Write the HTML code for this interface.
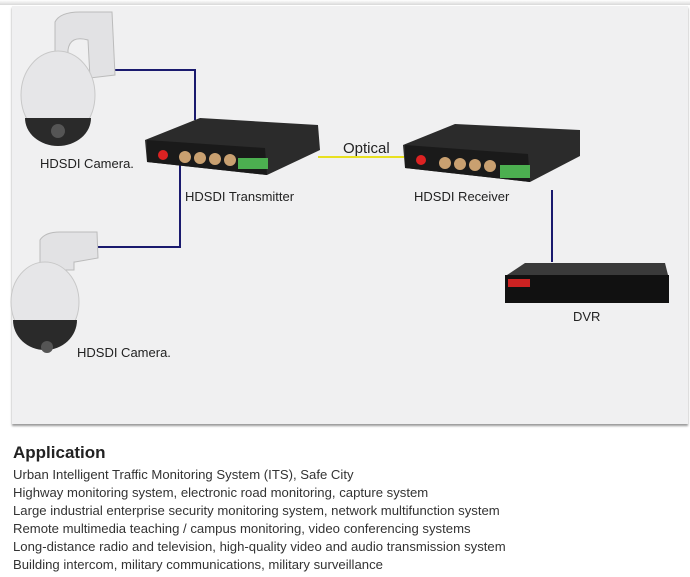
<!DOCTYPE html>
<html><head><meta charset="utf-8"><style>
body{margin:0;width:690px;height:577px;background:#fff;position:relative;overflow:hidden;font-family:"Liberation Sans",Arial,sans-serif}
.panel{position:absolute;left:12px;top:6px;width:676px;height:418px;background:#f0f0f1;box-shadow:0 2px 2px #999}
.top{position:absolute;left:0;top:0;width:690px;height:5px;background:linear-gradient(#fff,#d8d8d8)}
svg{position:absolute;left:0;top:0}
.h{position:absolute;left:13px;top:443px;font-size:17px;font-weight:bold;color:#222}
.l{position:absolute;left:13px;font-size:13px;color:#333;transform:scaleX(1.01);transform-origin:left}
</style></head><body>
<div class="top"></div>
<div class="panel"></div>
<svg width="690" height="577">
<g fill="none" stroke="#1a1a6e" stroke-width="2">
<path d="M112 70H195V120"/><path d="M98 247H180V165"/><path d="M552 190V262"/>
</g>
<path d="M318 157H404" stroke="#e8e020" stroke-width="2"/>
<!-- camera 1 -->
<g>
<path d="M55 22 Q60 12 80 12 L112 12 L115 75 L90 78 L88 40 Q70 35 68 50 L68 60 L55 60Z" fill="#e2e2e4" stroke="#bbb"/>
<ellipse cx="58" cy="95" rx="37" ry="44" fill="#e6e6e8" stroke="#c8c8c8"/>
<path d="M25 118 A33 28 0 0 0 91 118Z" fill="#2a2a2a"/>
<circle cx="58" cy="131" r="7" fill="#555"/>
</g>
<!-- camera 2 -->
<g>
<path d="M40 240 Q45 232 60 232 L97 232 L98 258 L75 262 L74 262 L74 270 L40 270Z" fill="#e2e2e4" stroke="#bbb"/>
<ellipse cx="45" cy="302" rx="34" ry="40" fill="#e6e6e8" stroke="#c8c8c8"/>
<path d="M13 320 A32 30 0 0 0 77 320Z" fill="#2a2a2a"/>
<circle cx="47" cy="347" r="6" fill="#555"/>
</g>
<!-- transmitter -->
<polygon points="145,140 200,118 318,125 320,150 267,175 147,162" fill="#2b2b2b"/>
<polygon points="147,140 265,148 267,175 147,162" fill="#1a1a1a"/>
<circle cx="163" cy="155" r="5" fill="#d22"/>
<g fill="#c9a070"><circle cx="185" cy="157" r="6"/><circle cx="200" cy="158" r="6"/><circle cx="215" cy="159" r="6"/><circle cx="230" cy="160" r="6"/></g>
<rect x="238" y="158" width="30" height="11" fill="#4caf50"/>
<!-- receiver -->
<polygon points="403,145 455,124 580,130 580,156 530,182 405,168" fill="#2b2b2b"/>
<polygon points="405,145 528,154 530,182 405,168" fill="#1a1a1a"/>
<circle cx="421" cy="160" r="5" fill="#d22"/>
<g fill="#c9a070"><circle cx="445" cy="163" r="6"/><circle cx="460" cy="164" r="6"/><circle cx="475" cy="165" r="6"/><circle cx="490" cy="166" r="6"/></g>
<rect x="500" y="165" width="30" height="13" fill="#4caf50"/>
<!-- DVR -->
<polygon points="507,275 525,263 665,263 668,275" fill="#3a3a3a"/>
<rect x="505" y="275" width="164" height="28" fill="#111"/>
<rect x="508" y="279" width="22" height="8" fill="#c22"/>
<g font-family="Liberation Sans,Arial,sans-serif" fill="#222">
<text x="40" y="168" font-size="13">HDSDI Camera.</text>
<text x="185" y="201" font-size="13">HDSDI Transmitter</text>
<text x="343" y="153" font-size="15">Optical</text>
<text x="414" y="201" font-size="13">HDSDI Receiver</text>
<text x="77" y="357" font-size="13">HDSDI Camera.</text>
<text x="573" y="321" font-size="13">DVR</text>
</g>
</svg>
<div class="h">Application</div>
<div class="l" style="top:467px">Urban Intelligent Traffic Monitoring System (ITS), Safe City</div>
<div class="l" style="top:485px">Highway monitoring system, electronic road monitoring, capture system</div>
<div class="l" style="top:503px">Large industrial enterprise security monitoring system, network multifunction system</div>
<div class="l" style="top:521px">Remote multimedia teaching / campus monitoring, video conferencing systems</div>
<div class="l" style="top:539px">Long-distance radio and television, high-quality video and audio transmission system</div>
<div class="l" style="top:557px">Building intercom, military communications, military surveillance</div>
</body></html>
